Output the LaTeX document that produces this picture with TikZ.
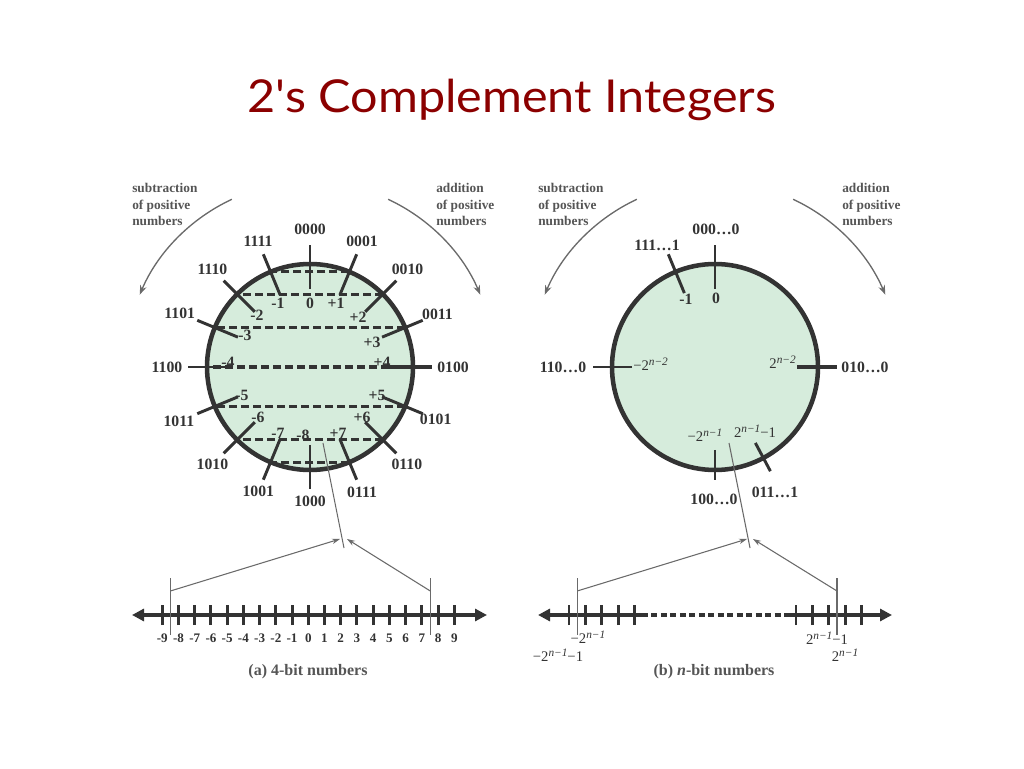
\documentclass[tikz,border=0pt]{standalone}
\usepackage{fontspec}
\usepackage{graphicx}
\setmainfont{Liberation Serif}
\newfontfamily\titlefont{Lato}
\usetikzlibrary{calc, positioning, arrows.meta}
\definecolor{ink}{HTML}{333333}
\definecolor{wire}{HTML}{6A6A6A}
\definecolor{ringfill}{HTML}{D6ECDC}
\definecolor{titlered}{HTML}{8B0000}
\definecolor{notegray}{HTML}{555555}
\newcommand{\pw}[1]{\raisebox{0.75ex}{\fontsize{8.5}{9}\selectfont #1}}

\begin{document}
\begin{tikzpicture}[x=0.75pt, y=0.75pt,
  ring/.style = {draw=ink, line width=3.4pt},
  tk/.style = {draw=ink, line width=2.2pt},
  chord/.style = {draw=ink, line width=2.3pt, dash pattern=on 6pt off 3pt},
  bits/.style = {font=\bfseries\fontsize{11.8}{13}\selectfont, text=ink, inner sep=0pt},
  pwr/.style = {font=\fontsize{11}{13}\selectfont, text=ink, inner sep=0pt},
  axlab/.style = {font=\bfseries\fontsize{9.8}{11}\selectfont, text=ink, inner sep=0pt},
  note/.style = {font=\bfseries\fontsize{10}{12.4}\selectfont, text=notegray, align=left, anchor=north west, inner sep=0pt},
  capt/.style = {font=\bfseries\fontsize{12}{14}\selectfont, text=notegray, inner sep=0pt},
  sweep/.style = {draw=wire, line width=1pt, -{Stealth[length=7pt, width=5pt]}},
  wire/.style = {draw=wire, line width=0.8pt},
  ptr/.style = {draw=wire, line width=0.8pt, -{Stealth[length=6pt, width=4pt]}},
  axis/.style = {draw=ink, line width=3pt},
  axtip/.tip = {Triangle[length=9pt, width=9pt]}
]
\useasboundingbox (0,0) rectangle (1024,768);

\node[font=\titlefont\fontsize{34}{36}\selectfont, text=titlered, anchor=base] (title) at (512,655)
  {\scalebox{1.07}[1]{2's Complement Integers}};

% (a) 4-bit circle
\coordinate (cA) at (310,401);
\fill[ringfill] (cA) circle[radius=103];
\foreach \a in {67.5,45,22.5,0,-22.5,-45,-67.5}
  \draw[chord] ($(cA)+(\a:103)$) -- ($(cA)+(180-\a:103)$);
\draw[ring] (cA) circle[radius=103];
\foreach \a in {22.5,45,...,337.5}
  \draw[tk] ($(cA)+(\a:78)$) -- ($(cA)+(\a:122)$);
\draw[tk, line width=3pt] ($(cA)+(0:78)$) -- ($(cA)+(0:122)$);

\foreach \a/\r/\t in {90/138/0000, 67.5/136/0001, 45/138/0010, 22.5/138/0011,
  0/143/0100, -22.5/136/0101, -45/137/0110, -67.5/136/0111, -90/134/1000,
  -112.5/135/1001, -135/138/1010, -157.5/142/1011, 180/143/1100,
  157.5/141/1101, 135/138/1110, 112.5/136/1111}
  \node[bits] (b\t) at ($(cA)+(\a:\r)$) {\t};

\foreach \x/\y/\t [count=\k] in {0/64/0, 26/64/+1, 48/50/+2, 62/25/+3, 72/5/+4,
  67/-28/+5, 52/-50/+6, 28/-66/+7, -7/-68/-8, -32/-66/-7, -52/-50/-6,
  -68/-28/-5, -82/5/-4, -65/32/-3, -53/52/-2, -32/64/-1}
  \node[bits] (v\k) at ($(cA)+(\x,\y)$) {\t};

\draw[sweep] ($(cA)+(115:185)$) arc[start angle=115, end angle=157, radius=185];
\draw[sweep] ($(cA)+(65:185)$) arc[start angle=65, end angle=23, radius=185];
\node[note] (subA) at (132,585) {subtraction\\of positive\\numbers};
\node[note] (addA) at (436,585) {addition\\of positive\\numbers};

% (a) number line
\coordinate (aL) at (132,153);
\coordinate (aR) at (487,153);
\draw[axis, {axtip}-{axtip}] (aL) -- (aR);
\foreach \v [count=\k from 0] in {-9,...,9}{
  \draw[tk] (162.3+16.22*\k,143) -- ++(0,20);
  \node[axlab] (la\k) at (162.3+16.22*\k,130) {\v};
}
\coordinate (loA) at (170.4,177);
\coordinate (hiA) at (430.3,177);
\draw[wire] (170.4,190) -- (170.4,133);
\draw[wire] (430.3,190) -- (430.3,133);
\coordinate (inA) at (323,325);
\coordinate (zA) at (344,220);
\coordinate (tA1) at (340,229);
\coordinate (tA2) at (347,229);
\draw[wire] (inA) -- (zA);
\draw[ptr] (loA) -- (tA1);
\draw[ptr] (hiA) -- (tA2);
\node[capt] (capA) at (308,96) {(a) 4-bit numbers};

% (b) n-bit circle
\coordinate (cB) at (715,401);
\fill[ringfill] (cB) circle[radius=103];
\draw[ring] (cB) circle[radius=103];
\foreach \a/\p/\q in {90/78/122, 112.5/80/122, 180/83/122, 270/83/113, -62/86/118}
  \draw[tk] ($(cB)+(\a:\p)$) -- ($(cB)+(\a:\q)$);
\draw[tk, line width=3pt] ($(cB)+(0:82)$) -- ($(cB)+(0:122)$);

\node[bits] (z0) at ($(cB)+(1,138)$) {000…0};
\node[bits] (o1) at ($(cB)+(-58,122)$) {111…1};
\node[bits] (q3) at ($(cB)+(-152,0)$) {110…0};
\node[bits] (q1) at ($(cB)+(150,0)$) {010…0};
\node[bits] (h0) at ($(cB)+(-1,-132)$) {100…0};
\node[bits] (h1) at ($(cB)+(60,-125)$) {011…1};
\node[bits] (w0) at ($(cB)+(1,69)$) {0};
\node[bits] (w1) at ($(cB)+(-29,68)$) {-1};
\node[pwr, anchor=west] (w2) at ($(cB)+(-82,3)$) {−2\pw{\itshape n−2}};
\node[pwr, anchor=east] (w3) at ($(cB)+(81,5)$) {2\pw{\itshape n−2}};
\node[pwr] (w4) at ($(cB)+(-10,-68)$) {−2\pw{\itshape n−1}};
\node[pwr] (w5) at ($(cB)+(40,-64)$) {2\pw{\itshape n−1}−1};

\draw[sweep] ($(cB)+(115:185)$) arc[start angle=115, end angle=157, radius=185];
\draw[sweep] ($(cB)+(65:185)$) arc[start angle=65, end angle=23, radius=185];
\node[note] (subB) at (538,585) {subtraction\\of positive\\numbers};
\node[note] (addB) at (842,585) {addition\\of positive\\numbers};

% (b) number line
\coordinate (bL) at (538,153);
\coordinate (bM1) at (642,153);
\coordinate (bM2) at (786,153);
\coordinate (bR) at (892,153);
\draw[axis, {axtip}-] (bL) -- (bM1);
\draw[axis, dash pattern=on 4.5pt off 2.6pt] (bM1) -- (bM2);
\draw[axis, -{axtip}] (bM2) -- (bR);
\foreach \x in {569,585.4,601.8,618.2,634.6,796,812.4,828.8,845.2,861.6}
  \draw[tk] (\x,143) -- ++(0,20);
\node[pwr] (lb1) at (588,131) {−2\pw{\itshape n−1}};
\node[pwr] (lb2) at (558,113) {−2\pw{\itshape n−1}−1};
\node[pwr] (lb3) at (827,130) {2\pw{\itshape n−1}−1};
\node[pwr] (lb4) at (845,113) {2\pw{\itshape n−1}};
\coordinate (loB) at (577.2,177);
\coordinate (hiB) at (837,177);
\draw[wire] (577.2,190) -- (577.2,133);
\draw[wire] (837,190) -- (837,133);
\coordinate (inB) at (729,325);
\coordinate (zB) at (750,220);
\coordinate (tB1) at (747,229);
\coordinate (tB2) at (753,229);
\draw[wire] (inB) -- (zB);
\draw[ptr] (loB) -- (tB1);
\draw[ptr] (hiB) -- (tB2);
\node[capt] (capB) at (714,96) {(b) \textit{n}-bit numbers};
\end{tikzpicture}
\end{document}
